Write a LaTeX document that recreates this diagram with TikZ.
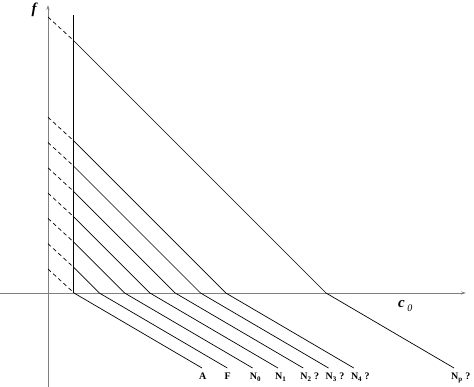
\documentclass[tikz,border=0pt]{standalone}
\usepackage{fontspec}
\setmainfont{Liberation Serif}
\usetikzlibrary{arrows.meta}
\begin{document}
\begin{tikzpicture}[x=1pt,y=-1pt,
  axis/.style={draw=black!50, line width=0.8pt, -{Stealth[length=5pt,width=3pt]}},
  curve/.style={draw=black, line width=0.7pt},
  ext/.style={draw=black, line width=0.7pt, dash pattern=on 4pt off 3pt},
  lbl/.style={font=\fontsize{10}{12}\selectfont\bfseries, anchor=north west, inner sep=0pt, xshift=-3pt, yshift=-5pt},
  big/.style={font=\fontsize{15}{16}\selectfont\bfseries\itshape, inner sep=0pt}]
\useasboundingbox (0,0) rectangle (474,387);
% axes
\coordinate (yb) at (48,387); \coordinate (yt) at (48,5);
\coordinate (xl) at (0,293); \coordinate (xr) at (466,293);
\draw[axis] (yb) -- (yt);
\draw[axis] (xl) -- (xr);
\node[big] (fl) at (34,10) {f};
\node[big, anchor=west] (cl) at (398,306) {c\,\raisebox{-4pt}{\fontsize{10}{12}\selectfont\mdseries 0}};
% wall
\coordinate (wb) at (73,293); \coordinate (wt) at (73,15);
\draw[curve] (wb) -- (wt);
% lower family
\foreach \k/\lab in {0/A, 1/F, 2/N\textsubscript{0}, 3/N\textsubscript{1}, 4/N\textsubscript{2} ?, 5/N\textsubscript{3} ?, 6/N\textsubscript{4} ?}{
  \pgfmathsetmacro{\yo}{292-25.3*\k}
  \pgfmathsetmacro{\kx}{73+293-\yo}
  \coordinate (d\k) at (48,\yo-23);
  \coordinate (s\k) at (73,\yo);
  \coordinate (k\k) at (\kx,293);
  \coordinate (e\k) at (\kx+128,368);
  \draw[ext] (d\k) -- (s\k);
  \draw[curve] (s\k) -- (k\k) -- (e\k);
  \node[lbl] (l\k) at (e\k) {\lab};
}
% top line
\coordinate (dT) at (48,17);
\coordinate (sT) at (73,40);
\coordinate (kT) at (326,293);
\coordinate (eT) at (454,368);
\draw[ext] (dT) -- (sT);
\draw[curve] (sT) -- (kT) -- (eT);
\node[lbl] (lT) at (eT) {N\textsubscript{p} ?};
\end{tikzpicture}
\end{document}
